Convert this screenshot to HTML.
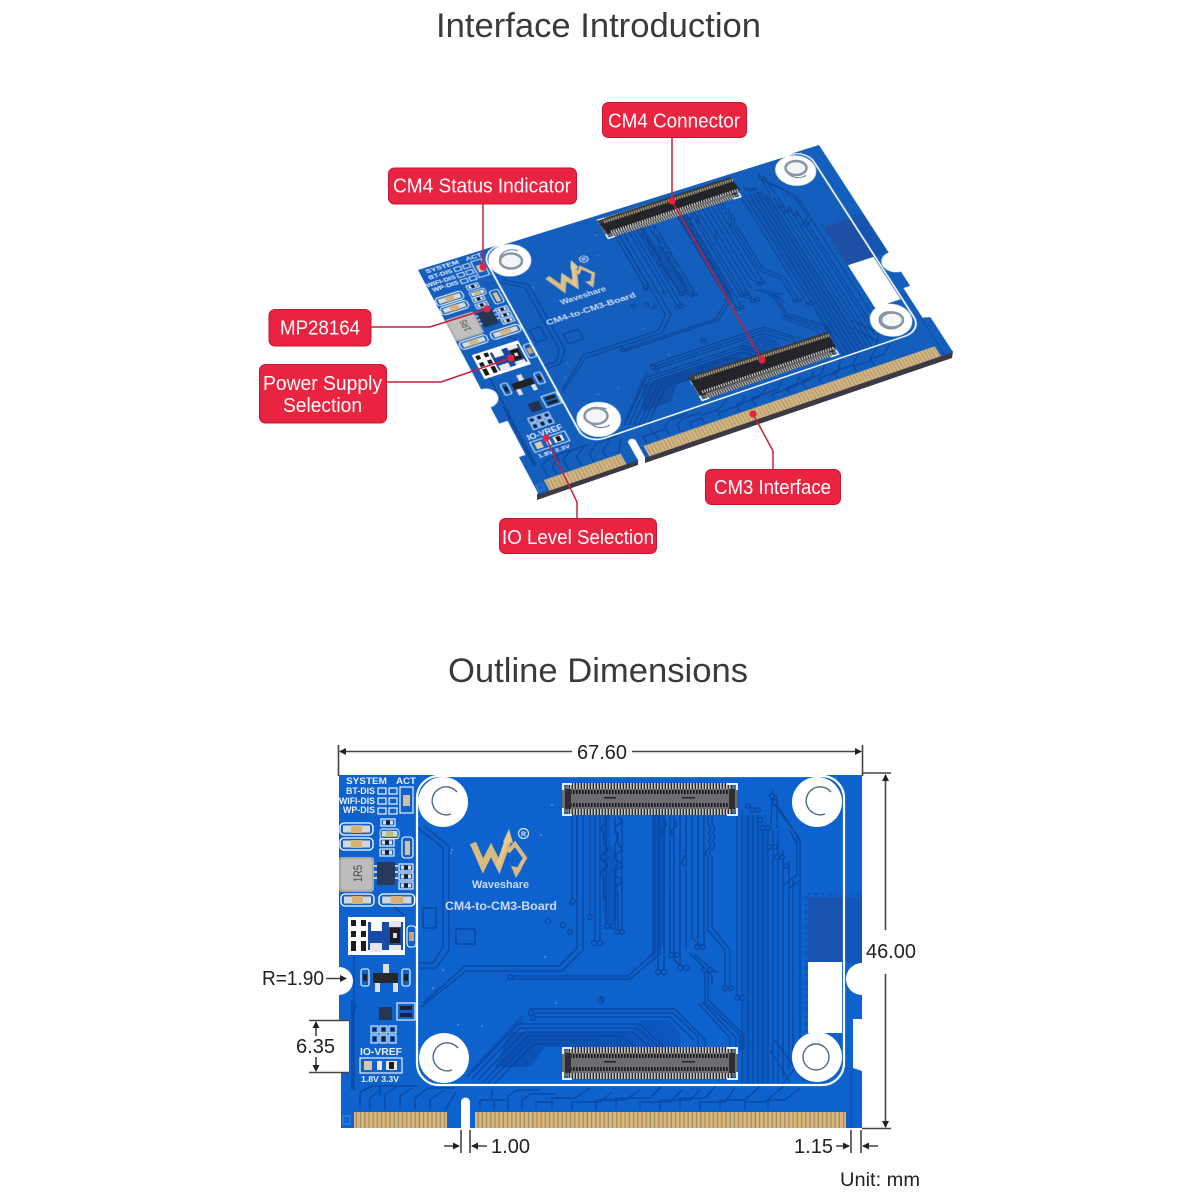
<!DOCTYPE html>
<html><head><meta charset="utf-8"><title>Interface Introduction</title>
<style>
html,body{margin:0;padding:0;background:#fff;width:1200px;height:1200px;overflow:hidden}
svg{position:absolute;left:0;top:0;display:block}
#persp{position:absolute;left:0;top:0;width:1200px;height:1200px;transform-origin:0 0;transform:matrix3d(.84620,-.22493,0,.00009704,.25739,.56391,0,-.00014847,0,0,1,0,-68.34,-90.78,0,1.08216);filter:saturate(.85) contrast(1.05)}
text{font-family:"Liberation Sans",sans-serif}
</style></head><body>
<!-- top-view board thickness -->
<svg width="1200" height="1200" viewBox="0 0 1200 1200">
<polygon points="537,494 638,459 638,465 537,500" fill="#3b3a44"/>
<polygon points="645,456 953,351 952,358 645,463" fill="#3b3a44"/>
</svg>
<div id="persp"><svg width="1200" height="1200" viewBox="0 0 1200 1200"><use href="#board"/></svg></div>

<svg width="1200" height="1200" viewBox="0 0 1200 1200">
<defs>
<pattern id="gold" width="4.2" height="20" patternUnits="userSpaceOnUse"><rect width="4.2" height="20" fill="#a08c60"/><rect width="3" height="20" fill="#d8b67c"/></pattern>
<pattern id="pins" width="3" height="10" patternUnits="userSpaceOnUse"><rect width="3" height="10" fill="#2a2c30"/><rect width="1.6" height="10" fill="#c4c6c4"/></pattern>
<pattern id="holes" width="3" height="6" patternUnits="userSpaceOnUse"><rect width="3" height="6" fill="#6c6e70"/><rect width="1.6" height="6" fill="#15171a"/></pattern>
<g id="conn">
<rect x="562" y="786" width="175" height="26" fill="#6b6d70"/>
<rect x="568" y="783" width="164" height="6" fill="url(#pins)"/>
<rect x="568" y="809" width="164" height="6" fill="url(#pins)"/>
<rect x="570" y="790" width="160" height="4" fill="url(#holes)"/>
<rect x="570" y="803" width="160" height="4" fill="url(#holes)"/>
<rect x="565" y="789" width="6" height="20" fill="#2c2e32"/>
<rect x="729" y="789" width="6" height="20" fill="#2c2e32"/>
<rect x="604" y="797" width="12" height="1.5" fill="#222"/><rect x="682" y="797" width="13" height="1.5" fill="#222"/>
<path d="M572,784H563V790M727,784H737V790M563,808V815H572M737,808V815H727" fill="none" stroke="#fff" stroke-width="1.8"/>
</g>
<g id="cap"><rect x="0" y="0" width="33" height="12" rx="4" fill="none" stroke="#fff" stroke-width="1.3"/><rect x="3" y="2.5" width="8" height="7" fill="#d7d7d2"/><rect x="22" y="2.5" width="8" height="7" fill="#d7d7d2"/><rect x="11" y="2" width="11" height="8" fill="#d6b274"/></g>
<g id="res"><rect x="0" y="0" width="14" height="7" fill="none" stroke="#fff" stroke-width="1.1"/><rect x="2" y="1.5" width="3" height="4" fill="#ddd"/><rect x="5" y="1.5" width="4" height="4" fill="#1b1b20"/><rect x="9" y="1.5" width="3" height="4" fill="#ddd"/></g>

<g id="board">
<path id="pcb" d="M339,775H862V963A15,15 0 0 0 862,995V1019H853V1068L862,1071V1128H470V1102A4.5,4.5 0 0 0 461,1102V1128H341V1072H349V1020H339V995A14,14 0 0 0 339,967Z" fill="#0e62cd"/>
<!-- shielding patches -->
<rect x="808" y="897" width="34" height="65" fill="#1a52b2"/>
<rect x="842" y="897" width="20" height="66" fill="#1158bd"/>
<rect x="808" y="962" width="34" height="71" fill="#fff"/>
<path d="M808,894H860M806,897V1033" fill="none" stroke="#0a4aa6" stroke-width="1.4" stroke-dasharray="2 5"/>
<!-- dark copper fills -->
<path d="M602,815h8v30l8,10v60l-5,15h-6l-5,-30zM524,1020l-50,52h-6l54,-58zM640,1020h30l10,14v14h-60zM652,815h14l-2,130l-10,12z" fill="#0c57bf"/>
<path d="M742,815h25l3,270h-28z" fill="#0c5cc6"/>
<path d="M510,1032h120v15h-85l-15,20h-35z" fill="#0c52b6"/>
<!-- traces -->
<g fill="none" stroke="#0a469f" stroke-width="1.3" stroke-linejoin="round">
<path d="M418,828L443,848V947L433,963H418M424,826L449,846V950L436,968H420"/>
<path d="M423,1003L465,966H559L577,948V808M421,1007L466,971H562L583,950V808"/>
<path d="M509,976H628L655,952V815M510,979H630L660,954V815"/>
<path d="M530,1013H673L698,1037V1047M532,1017H670L694,1040M530,1009H675L705,1040V1047"/>
<path d="M467,1077L517,1024H640L665,1048M472,1079L520,1028H637L660,1048M477,1081L524,1032H632L652,1048M482,1083L528,1036H620L635,1046"/>
<path d="M488,1083L531,1040H595M494,1084L534,1044H570"/>
<path d="M572,815V902M577,815V902"/>
<path d="M590,815V917M595,815V945M600,815V945M606,816V930"/>
<path d="M604,817q6,4 0,8q-6,4 0,8v12q7,4 0,8q-7,4 0,8q7,4 0,8q-7,4 0,8v24"/>
<path d="M618,817q6,4 0,8q-6,4 0,8v12q7,4 0,8q-7,4 0,8q7,4 0,8q-7,4 0,8q7,4 0,8q-7,4 0,8v38"/>
<path d="M615,817v15q4,6 0,12v15q6,4 0,8v60M622,817V932"/>
<path d="M653,815V960M658,815V970M664,815V970M670,815V953M674,815V960L682,968M680,815V968M686,815V950"/>
<path d="M664,820q5,4 0,8q-5,4 0,8M674,820q5,4 0,8q-5,4 0,8M684,850q4,4 0,8q-4,4 0,8"/>
<path d="M692,815V938L700,945V948M698,815V940M704,815V945"/>
<path d="M708,815v10q5,4 0,8q5,4 0,8q5,4 0,8q-5,4 0,8V930L725,950V985M712,815v10q5,4 0,8q5,4 0,8q5,4 0,8q-5,4 0,8V927L730,950V985"/>
<path d="M695,955L715,972H718M690,953L712,976V985"/>
<path d="M705,970V1002L740,1035V1050M708,970V1000L744,1035V1050M702,1002L736,1038V1047M699,1004L730,1038V1047"/>
<path d="M737,810V998L742,1000V1085M742,810V1085M748,815V1085M753,815V1085M758,815V1085M763,825V1085M768,825V1085M773,830V1085M778,830V1085"/>
<path d="M783,850V1078M789,860V1070M793,880V1060M782,1085L800,1062V880"/>
<path d="M772,795L771,825M777,800V828M790,830L797,845M773,790V803L797,835V875L784,885M777,795V805L800,840V880L790,888"/>
<path d="M770,1050L790,1082M775,1040L805,1082"/>
<!-- lower escape traces -->
<path d="M360,1110V1092L372,1086H410M370,1110V1098L380,1090M385,1110V1094L398,1086H418M400,1110V1096L412,1088M415,1110V1098L428,1088H455M430,1110V1100L444,1090M445,1110L456,1092"/>
<path d="M480,1110V1100H492V1090M494,1110V1100H506M508,1110V1096L518,1090H540M522,1110V1100L530,1094H555M536,1110V1102H552M552,1110V1098H575L590,1088M572,1110V1102H600L612,1092M596,1110V1100H625L640,1090M616,1110V1098H650L662,1086M640,1110V1102H670L682,1090M660,1110V1100H690L700,1090M680,1110V1098H705L716,1086M700,1110V1102H725L735,1088M720,1110V1100H745L760,1086M745,1110V1102H765L785,1085M768,1110V1100H785L800,1088"/>
<path d="M352,1000V1090M354,955V1090M356,1005L352,1018M380,1095V1085M392,905L404,915"/>
</g>
<g fill="#0e62cd" stroke="#0a469f" stroke-width="1.3">
<circle cx="572" cy="903" r="2.3"/><circle cx="590" cy="917" r="2.3"/><circle cx="594" cy="943" r="2.6"/><circle cx="600" cy="943" r="2.6"/>
<circle cx="607" cy="926" r="2.3"/><circle cx="613" cy="926" r="2.3"/><circle cx="617" cy="932" r="2.3"/><circle cx="622" cy="932" r="2.3"/>
<circle cx="658" cy="972" r="2.6"/><circle cx="664" cy="972" r="2.6"/><circle cx="671" cy="955" r="2.3"/><circle cx="677" cy="955" r="2.3"/>
<circle cx="680" cy="968" r="2.6"/><circle cx="686" cy="968" r="2.6"/><circle cx="697" cy="947" r="2.3"/><circle cx="703" cy="947" r="2.3"/>
<circle cx="704" cy="970" r="2.3"/><circle cx="710" cy="970" r="2.3"/><circle cx="725" cy="988" r="2.3"/><circle cx="731" cy="988" r="2.3"/>
<circle cx="737" cy="998" r="2.3"/><circle cx="742" cy="998" r="2.3"/>
<circle cx="772" cy="796" r="2.6"/><circle cx="775" cy="802" r="2.3"/><circle cx="748" cy="806" r="2.3"/><circle cx="752" cy="810" r="2.3"/>
<circle cx="758" cy="810" r="2.3"/><circle cx="760" cy="820" r="2.3"/><circle cx="763" cy="828" r="2.3"/><circle cx="768" cy="828" r="2.3"/>
<circle cx="769" cy="847" r="2.3"/><circle cx="775" cy="847" r="2.3"/><circle cx="777" cy="857" r="2.3"/><circle cx="782" cy="857" r="2.3"/><circle cx="786" cy="866" r="2.3"/>
<circle cx="573" cy="901" r="2.3"/><circle cx="548" cy="921" r="2.6"/><circle cx="563" cy="925" r="2.6"/><circle cx="570" cy="932" r="2.3"/>
<circle cx="601" cy="1000" r="3.2"/><circle cx="602" cy="999" r="1.5"/><circle cx="510" cy="977" r="2.5"/><circle cx="531" cy="1013" r="2.5"/><circle cx="533" cy="1018" r="2.5"/>
</g>
<g fill="none" stroke="#0a469f" stroke-width="1.4"><rect x="456" y="929" width="19" height="15" rx="1"/><rect x="423" y="908" width="13" height="20"/></g>
<!-- gold fingers -->
<rect x="354" y="1112" width="93" height="16" fill="url(#gold)"/>
<rect x="475" y="1112" width="371" height="16" fill="url(#gold)"/>
<rect x="343" y="1116" width="7" height="8" fill="none" stroke="#3f8ae0" stroke-width="1"/>
<rect x="853" y="1072" width="8" height="56" fill="#0e62cd"/>
<path d="M851,1070V1128" stroke="#0a469f" stroke-width="1"/>
<!-- outline -->
<rect x="417" y="776" width="427" height="309" rx="22" fill="none" stroke="#fff" stroke-width="2.2"/>
<!-- holes -->
<g fill="#fff"><circle cx="443" cy="802" r="25"/><circle cx="817" cy="802" r="25"/><circle cx="817" cy="1057" r="25"/><circle cx="444" cy="1058" r="25"/></g>
<g fill="none" stroke="#4d6880" stroke-width="1.4"><path d="M457,792A14,14 0 1 0 451,814"/><path d="M831,792A14,14 0 1 0 825,814"/><circle cx="816" cy="1057" r="13"/><path d="M458,1048A14,14 0 1 0 452,1070"/></g>
<!-- logo -->
<path d="M473,843L483,866L491,850L499,866L508,841" fill="none" stroke="#d9bb80" stroke-width="6.5" stroke-linejoin="miter"/>
<path d="M498,866L508,835" fill="none" stroke="#e6c88e" stroke-width="3.5"/><polygon points="509,829 503,842 513,843" fill="#e6c88e"/>
<path d="M508,852L515,844L525,858L518,870" fill="none" stroke="#d9bb80" stroke-width="4"/><polygon points="516,878 511,866 522,868" fill="#d9bb80"/>
<circle cx="523.500" cy="833.500" r="5" fill="none" stroke="#dde4f2" stroke-width="1.2"/>
<text x="523.500" y="836.500" font-size="7" font-weight="700" fill="#dde4f2" text-anchor="middle">R</text>
<text x="472" y="888" font-size="11" font-weight="700" fill="#cdd9ee" textLength="57" lengthAdjust="spacingAndGlyphs">Waveshare</text>
<text x="445" y="910" font-size="11.500" font-weight="700" fill="#cdd9ee" textLength="112" lengthAdjust="spacingAndGlyphs">CM4-to-CM3-Board</text>
<!-- silk -->
<g font-weight="700" fill="#e8eefa" font-size="9">
<text x="346" y="784" textLength="41" lengthAdjust="spacingAndGlyphs">SYSTEM</text>
<text x="396" y="784" textLength="20" lengthAdjust="spacingAndGlyphs">ACT</text>
<text x="346" y="794" textLength="29" lengthAdjust="spacingAndGlyphs">BT-DIS</text>
<text x="339" y="804" textLength="36" lengthAdjust="spacingAndGlyphs">WIFI-DIS</text>
<text x="343" y="813" textLength="32" lengthAdjust="spacingAndGlyphs">WP-DIS</text>
<text x="360" y="1055" font-size="10" textLength="42" lengthAdjust="spacingAndGlyphs">IO-VREF</text>
<text x="361" y="1082" font-size="8" textLength="38" lengthAdjust="spacingAndGlyphs">1.8V 3.3V</text>
</g>
<g fill="none" stroke="#fff" stroke-width="1.1">
<rect x="378" y="788" width="8" height="6"/><rect x="389" y="788" width="8" height="6"/><rect x="378" y="798" width="8" height="6"/><rect x="389" y="798" width="8" height="6"/><rect x="378" y="808" width="8" height="6"/><rect x="389" y="808" width="8" height="6"/>
<rect x="400" y="787" width="13" height="26"/>
<rect x="402" y="837" width="11" height="21" rx="3"/>
</g>
<rect x="403" y="795" width="7" height="11" fill="#d0c2a0"/>
<use href="#cap" x="340" y="823"/><use href="#cap" x="340" y="838"/>
<use href="#res" x="381" y="819"/><use href="#cap" transform="translate(380 829) scale(.58 .8)"/>
<use href="#res" x="380" y="839"/><use href="#res" x="380" y="849"/>
<rect x="405" y="841" width="5" height="14" fill="#d7c09a"/>
<rect x="339" y="857" width="35" height="35" rx="3" fill="#a7a8a8"/><rect x="341" y="859" width="31" height="31" rx="3" fill="#bcbcbb"/>
<text transform="translate(362 882) rotate(-90)" font-size="11.500" fill="#44464a" textLength="17" lengthAdjust="spacingAndGlyphs">1R5</text>
<rect x="377" y="862" width="18" height="23" fill="#273a5c"/>
<rect x="374" y="865" width="3" height="2" fill="#ccc"/><rect x="374" y="871" width="3" height="2" fill="#ccc"/><rect x="374" y="877" width="3" height="2" fill="#ccc"/><rect x="395" y="865" width="3" height="2" fill="#ccc"/><rect x="395" y="871" width="3" height="2" fill="#ccc"/><rect x="395" y="877" width="3" height="2" fill="#ccc"/>
<use href="#res" x="399" y="864"/><use href="#res" x="399" y="873"/><use href="#res" x="399" y="882"/>
<use href="#cap" x="341" y="894"/><use href="#cap" transform="translate(379 894) scale(1.08 1)"/>
<!-- power select -->
<rect x="348" y="917" width="57" height="38" fill="#fff"/>
<rect x="368" y="922" width="35" height="28" fill="#1a4aa8"/>
<rect x="371" y="922" width="11" height="9" fill="#fff"/><rect x="370" y="943" width="12" height="9" fill="#e6e6e6"/><rect x="389" y="921" width="12" height="6" fill="#e6e6e6"/><rect x="389" y="945" width="12" height="5" fill="#e6e6e6"/>
<rect x="390" y="928" width="10" height="15" fill="#1c1c20"/><rect x="393" y="933" width="4" height="5" fill="#d8d8d8"/>
<g fill="#1b1d25"><rect x="351" y="920" width="5" height="6"/><rect x="361" y="920" width="5" height="6"/><rect x="351" y="931" width="5" height="6"/><rect x="361" y="931" width="5" height="6"/><rect x="351" y="941" width="5" height="10"/><rect x="361" y="941" width="5" height="10"/></g>
<rect x="407" y="926" width="9" height="21" rx="3" fill="none" stroke="#fff" stroke-width="1.1"/><rect x="409" y="932" width="5" height="9" fill="#cfa36f"/>
<!-- regulator -->
<rect x="373" y="973" width="25" height="10" fill="#26262c"/>
<rect x="383" y="964" width="6" height="9" fill="#ddd"/><rect x="375" y="983" width="5" height="9" fill="#ddd"/><rect x="393" y="983" width="5" height="9" fill="#ddd"/>
<rect x="361" y="969" width="8" height="17" rx="2" fill="none" stroke="#fff" stroke-width="1.1"/><rect x="363" y="974" width="4" height="7" fill="#222"/>
<rect x="402" y="969" width="8" height="17" rx="2" fill="none" stroke="#fff" stroke-width="1.1"/><rect x="404" y="974" width="4" height="7" fill="#222"/>
<!-- QFN -->
<rect x="379" y="1007" width="13" height="13" fill="#263654"/>
<rect x="397" y="1003" width="18" height="17" fill="none" stroke="#fff" stroke-width="1.1"/><rect x="400" y="1006" width="12" height="4" fill="#222"/><rect x="400" y="1013" width="12" height="4" fill="#222"/>
<g fill="none" stroke="#fff" stroke-width="1"><rect x="371" y="1026" width="7" height="7"/><rect x="380" y="1026" width="7" height="7"/><rect x="389" y="1026" width="7" height="7"/><rect x="371" y="1035" width="7" height="8"/><rect x="380" y="1035" width="7" height="8"/><rect x="389" y="1035" width="7" height="8"/></g>
<g fill="#1c1c22"><rect x="373" y="1028" width="3" height="3"/><rect x="382" y="1028" width="3" height="3"/><rect x="391" y="1028" width="3" height="3"/><rect x="373" y="1037" width="3" height="4"/><rect x="382" y="1037" width="3" height="4"/><rect x="391" y="1037" width="3" height="4"/></g>
<!-- IO-VREF -->
<rect x="360" y="1058" width="42" height="15" fill="none" stroke="#fff" stroke-width="1.1"/>
<rect x="364" y="1061" width="8" height="9" fill="#d8c6a8"/><rect x="377" y="1061" width="5" height="9" fill="#e6e6e6"/><rect x="386" y="1061" width="11" height="9" fill="#e6e6e6"/><rect x="389" y="1062" width="5" height="7" fill="#1c1c22"/>
<!-- dots -->
<g fill="#4b8fe6"><circle cx="552" cy="805" r="1"/><circle cx="452" cy="850" r="1"/><circle cx="451" cy="853" r="1"/><circle cx="541" cy="835" r="1"/><circle cx="545" cy="957" r="1"/><circle cx="443" cy="970" r="1"/><circle cx="433" cy="988" r="1"/><circle cx="556" cy="1003" r="1"/><circle cx="458" cy="1025" r="1"/><circle cx="482" cy="1026" r="1"/><circle cx="836" cy="778" r="1"/></g>
<use href="#conn"/>
<use href="#conn" y="264"/>
</g>
</defs>

<!-- TOP VIEW 3D details -->
<polygon points="597,221 730,177 740,190 608,234" fill="#23252a"/>
<polygon points="597,221 730,177 733,180 600,224" fill="#3c3e42"/>
<path d="M604,222L733,180" stroke="#a89872" stroke-width="3" stroke-dasharray="1.4 1" fill="none"/>
<path d="M611,232L738,190" stroke="#c8c8c0" stroke-width="3" stroke-dasharray="1.3 1.2" fill="none"/>
<polygon points="688,377 827,332 836,347 700,395" fill="#23252a"/>
<polygon points="688,377 827,332 830,336 692,381" fill="#3c3e42"/>
<path d="M695,378L830,335" stroke="#a89872" stroke-width="3" stroke-dasharray="1.4 1" fill="none"/>
<path d="M702,392L834,348" stroke="#c8c8c0" stroke-width="3" stroke-dasharray="1.3 1.2" fill="none"/>
<g fill="#f4f5f6" stroke="#8796a5" stroke-width="2.500"><ellipse cx="511" cy="261" rx="11" ry="7.500"/><ellipse cx="796" cy="168" rx="10.500" ry="7"/><ellipse cx="892" cy="320" rx="11" ry="7.500"/><ellipse cx="596" cy="416" rx="11.500" ry="8"/></g>

<!-- LOWER VIEW -->
<use href="#board"/>

<!-- TITLES -->
<text x="436" y="37" font-size="34" fill="#3a3a3a" textLength="325" lengthAdjust="spacingAndGlyphs">Interface Introduction</text>
<text x="448" y="682" font-size="34" fill="#3a3a3a" textLength="300" lengthAdjust="spacingAndGlyphs">Outline Dimensions</text>

<!-- CALLOUT LINES -->
<g fill="none" stroke="#c81e3c" stroke-width="1.5">
<path d="M483,204V267"/>
<path d="M371,327H430L487,309"/>
<path d="M387,382H441L511,358"/>
<path d="M577,518V502L546,438"/>
<path d="M672,138V201L762,360"/>
<path d="M773,469V451L753,414"/>
</g>
<g fill="#ea2040"><circle cx="483" cy="267" r="3.500"/><circle cx="487" cy="309" r="3.500"/><circle cx="511" cy="358" r="3.500"/><circle cx="546" cy="438" r="3.500"/><circle cx="672" cy="201" r="3.500"/><circle cx="762" cy="360" r="3.500"/><circle cx="753" cy="414" r="3.500"/></g>

<!-- LABEL BOXES -->
<g fill="#ea2340" stroke="#c41636" stroke-width="1">
<rect x="602.500" y="102.500" width="144" height="35" rx="6"/>
<rect x="388.500" y="168" width="188" height="36" rx="6"/>
<rect x="269" y="309.500" width="102" height="36.500" rx="6"/>
<rect x="259.500" y="364.500" width="127" height="58.500" rx="6"/>
<rect x="705.500" y="469.500" width="135" height="35" rx="6"/>
<rect x="499.500" y="518.500" width="157" height="35" rx="6"/>
</g>
<g fill="#fff" font-size="20">
<text x="608" y="127.500" textLength="132" lengthAdjust="spacingAndGlyphs">CM4 Connector</text>
<text x="393" y="192.500" textLength="178" lengthAdjust="spacingAndGlyphs">CM4 Status Indicator</text>
<text x="280" y="334.500" textLength="80" lengthAdjust="spacingAndGlyphs">MP28164</text>
<text x="263" y="390" textLength="119" lengthAdjust="spacingAndGlyphs">Power Supply</text>
<text x="283" y="412" textLength="79" lengthAdjust="spacingAndGlyphs">Selection</text>
<text x="714" y="494" textLength="117" lengthAdjust="spacingAndGlyphs">CM3 Interface</text>
<text x="502" y="544" textLength="152" lengthAdjust="spacingAndGlyphs">IO Level Selection</text>
</g>

<!-- DIMENSIONS -->
<g fill="none" stroke="#444" stroke-width="1.6">
<path d="M338.500,745V776M862.500,745V776"/>
<path d="M340,751.500H572M632,751.500H860"/>
<path d="M862,773H891M862,1128.500H891"/>
<path d="M885.500,775V930M885.500,974V1127"/>
<path d="M326,978.500H345"/>
<path d="M309,1020.500H349M309,1072.500H349"/>
<path d="M316,1023V1036M316,1057V1070"/>
<path d="M461,1130V1153M470,1130V1153M444,1146H459M472,1146H487"/>
<path d="M851,1130V1153M861,1130V1153M836,1146H849M863,1146H878"/>
</g>
<g fill="#222">
<polygon points="339,751.500 346,748 346,755"/><polygon points="862,751.500 855,748 855,755"/>
<polygon points="885.500,774 882,781 889,781"/><polygon points="885.500,1128 882,1121 889,1121"/>
<polygon points="347,978.500 340,975 340,982"/>
<polygon points="316,1021 312.500,1028 319.500,1028"/><polygon points="316,1072 312.500,1065 319.500,1065"/>
<polygon points="460,1146 453,1142.500 453,1149.500"/><polygon points="471,1146 478,1142.500 478,1149.500"/>
<polygon points="850,1146 843,1142.500 843,1149.500"/><polygon points="862,1146 869,1142.500 869,1149.500"/>
</g>
<g fill="#222" font-size="20">
<text x="577" y="759" textLength="50" lengthAdjust="spacingAndGlyphs">67.60</text>
<text x="866" y="958" textLength="50" lengthAdjust="spacingAndGlyphs">46.00</text>
<text x="262" y="985" textLength="62" lengthAdjust="spacingAndGlyphs">R=1.90</text>
<text x="296" y="1053" textLength="39" lengthAdjust="spacingAndGlyphs">6.35</text>
<text x="491" y="1153" textLength="39" lengthAdjust="spacingAndGlyphs">1.00</text>
<text x="794" y="1153" textLength="39" lengthAdjust="spacingAndGlyphs">1.15</text>
<text x="840" y="1186" font-size="19" textLength="80" lengthAdjust="spacingAndGlyphs">Unit: mm</text>
</g>
</svg>
</body></html>
